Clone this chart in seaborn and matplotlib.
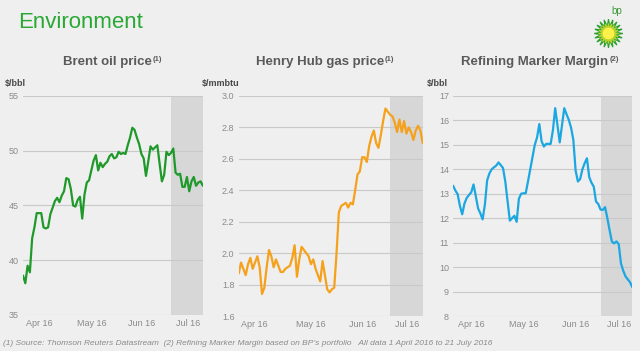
import numpy as np
import pandas as pd
import matplotlib
matplotlib.use("Agg")
from matplotlib import pyplot as plt
import seaborn as sns

# trading days 1 April 2016 - 21 July 2016
dates = pd.bdate_range("2016-04-01", "2016-07-21")

brent = [38.6, 37.9, 39.5, 38.9, 42.0, 43.0, 44.3, 44.3, 44.3, 43.0,
         42.9, 43.0, 44.2, 44.8, 45.4, 45.7, 45.3, 45.9, 46.3, 47.5,
         47.4, 46.5, 45.0, 44.9, 45.5, 45.8, 43.8, 46.0, 47.1, 47.3,
         48.2, 49.1, 49.6, 48.2, 48.9, 48.5, 48.8, 49.0, 49.5, 49.7,
         49.3, 49.4, 49.9, 49.7, 49.8, 49.7, 50.5, 51.2, 52.1, 51.9,
         51.2, 50.6, 49.7, 49.3, 47.7, 49.0, 50.4, 50.1, 50.3, 50.5,
         48.8, 47.2, 47.8, 49.9, 49.6, 49.8, 50.2, 48.0, 47.8, 47.9,
         46.7, 46.7, 47.6, 46.3, 47.2, 47.6, 46.8, 47.1, 47.2, 46.8]

henry_hub = [1.87, 1.94, 1.90, 1.86, 1.93, 1.97, 1.90, 1.94, 1.98, 1.91,
             1.74, 1.78, 1.91, 2.02, 1.98, 1.91, 1.96, 1.92, 1.88, 1.88,
             1.90, 1.91, 1.92, 1.97, 2.05, 1.85, 1.96, 2.04, 2.02, 2.00,
             1.98, 1.93, 1.96, 1.90, 1.86, 1.82, 1.95, 1.86, 1.77, 1.75,
             1.77, 1.78, 2.00, 2.26, 2.30, 2.31, 2.32, 2.29, 2.32, 2.31,
             2.40, 2.50, 2.52, 2.61, 2.61, 2.58, 2.68, 2.74, 2.78, 2.70,
             2.67, 2.75, 2.84, 2.92, 2.90, 2.88, 2.87, 2.83, 2.77, 2.85,
             2.77, 2.84, 2.76, 2.80, 2.77, 2.72, 2.78, 2.81, 2.78, 2.70]

rmm = [13.33, 13.13, 12.98, 12.50, 12.16, 12.60, 12.83, 12.95, 13.06, 13.38,
       12.90, 12.40, 12.20, 11.95, 12.55, 13.55, 13.83, 14.00, 14.08, 14.15,
       14.28, 14.17, 14.05, 13.50, 12.70, 11.90, 12.00, 12.10, 11.85, 12.80,
       13.00, 13.02, 13.02, 13.50, 14.00, 14.50, 15.00, 15.30, 15.85, 15.15,
       14.93, 15.04, 15.04, 15.04, 15.60, 16.50, 15.80, 15.10, 15.80, 16.50,
       16.25, 16.02, 15.70, 15.20, 13.95, 13.50, 13.60, 14.00, 14.25, 14.45,
       13.68, 13.45, 13.29, 12.68, 12.58, 12.35, 12.34, 12.45, 12.00, 11.50,
       11.04, 10.97, 11.05, 10.94, 10.15, 9.85, 9.62, 9.50, 9.38, 9.18]

month_labels = ["Apr 16", "May 16", "Jun 16", "Jul 16"]
shade_from = pd.Timestamp("2016-07-01")

df = pd.DataFrame({"date": dates, "brent": brent, "henry_hub": henry_hub, "rmm": rmm})
df["day"] = np.arange(len(df))
shade_start = df.loc[df["date"] >= shade_from, "day"].iloc[0]

sns.set_theme(style="white")
plt.rcParams["font.family"] = ["Liberation Sans", "DejaVu Sans"]

BG = "#efefef"
fig = plt.figure(figsize=(6.4, 3.51), dpi=100, facecolor=BG)

panels = [
    dict(col="brent", color="#1f9a2a", title="Brent oil price", note="(1)", unit="$/bbl",
         ylim=(35, 55), yticks=np.arange(35, 56, 5), fmt="{:.0f}",
         rect=[0.036, 0.1026, 0.281, 0.624], unit_x=0.008, title_x=0.168,
         xt=[7.0, 30.3, 52.2, 72.4]),
    dict(col="henry_hub", color="#f5a11c", title="Henry Hub gas price", note="(1)", unit="$/mmbtu",
         ylim=(1.6, 3.0), yticks=np.arange(1.6, 3.01, 0.2), fmt="{:.1f}",
         rect=[0.373, 0.0997, 0.2875, 0.627], unit_x=0.316, title_x=0.500,
         xt=[6.9, 30.9, 53.2, 72.1]),
    dict(col="rmm", color="#1aa7e2", title="Refining Marker Margin", note="(2)", unit="$/bbl",
         ylim=(8, 17), yticks=np.arange(8, 18, 1), fmt="{:.0f}",
         rect=[0.708, 0.0997, 0.28, 0.627], unit_x=0.667, title_x=0.836,
         xt=[7.9, 31.3, 54.2, 73.3]),
]

for p in panels:
    ax = fig.add_axes(p["rect"], facecolor=BG)
    ax.axvspan(shade_start, len(df) - 1, color="#d7d7d7", zorder=0, lw=0)
    sns.lineplot(data=df, x="day", y=p["col"], ax=ax, color=p["color"], lw=1.6, zorder=3)
    ax.set_xlim(0, len(df) - 1)
    ax.set_ylim(*p["ylim"])
    ax.set_yticks(p["yticks"])
    ax.set_yticklabels([p["fmt"].format(v) for v in p["yticks"]])
    ax.set_xticks(p["xt"])
    ax.set_xticklabels(month_labels)
    for y in p["yticks"]:
        ax.axhline(y, color="#c9c9c9", lw=0.8, zorder=1)
    for s in ax.spines.values():
        s.set_visible(False)
    ax.tick_params(axis="both", length=0, labelsize=6.5, labelcolor="#8a8a8a", pad=3)
    ax.set_xlabel("")
    ax.set_ylabel("")
    t = fig.text(p["title_x"], 0.822, p["title"], ha="center", va="center",
                 fontsize=9.5, fontweight="bold", color="#5a5a5a")
    fig.canvas.draw()
    bb = t.get_window_extent()
    fig.text(bb.x1 / fig.bbox.width + 0.001, 0.831, p["note"], ha="left", va="center",
             fontsize=5.5, fontweight="bold", color="#5a5a5a")
    fig.text(p["unit_x"], 0.762, p["unit"], ha="left", va="center",
             fontsize=6.5, fontweight="bold", color="#4a4a4a")

fig.text(0.028, 0.937, "Environment", ha="left", va="center", fontsize=16, color="#2aa836")
fig.text(0.005, 0.022,
         "(1) Source: Thomson Reuters Datastream  (2) Refining Marker Margin based on BP\u2019s portfolio   All data 1 April 2016 to 21 July 2016",
         ha="left", va="center", fontsize=6.0, style="italic", color="#8a8a8a")

# bp logo
logo = fig.add_axes([0.905, 0.83, 0.09, 0.16], facecolor="none")
logo.set_xlim(-1, 1)
logo.set_ylim(-1, 1)
logo.axis("off")
logo.scatter([0.0], [-0.05], s=400, marker=(20, 1, 0), color="#2ca02c", zorder=1)
logo.scatter([0.0], [-0.05], s=190, marker=(20, 1, 0), color="#b8d432", zorder=2)
logo.scatter([0.0], [-0.05], s=55, marker="o", color="#fff04a", zorder=3)
logo.text(0.32, 0.72, "bp", ha="center", va="center", fontsize=7, color="#3a9a3a")

fig.savefig("out.png", dpi=100, facecolor=BG)
